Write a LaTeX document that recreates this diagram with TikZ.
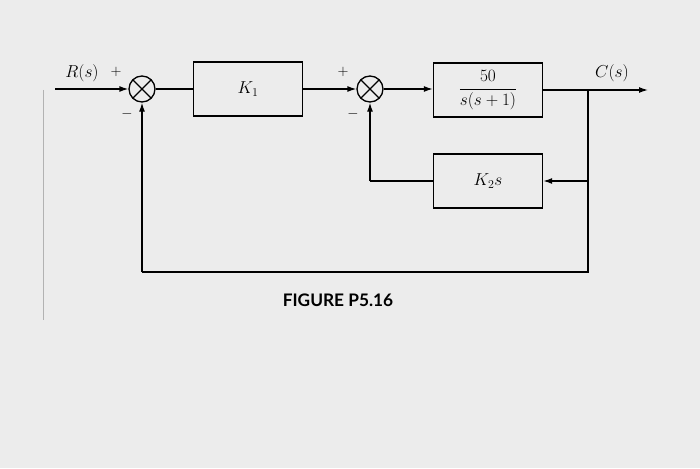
\documentclass[tikz,border=0pt]{standalone}
\usepackage{fontspec}
\setsansfont{Lato}
\usetikzlibrary{arrows.meta}
\begin{document}
\begin{tikzpicture}[x=1pt,y=-1pt,
  blk/.style={draw,line width=1.4pt,minimum width=109pt,minimum height=54pt,inner sep=0pt,font=\LARGE},
  sumj/.style={draw,line width=1.3pt,circle,minimum size=26pt,inner sep=0pt,
    path picture={\draw[line width=1.3pt] (path picture bounding box.north west)--(path picture bounding box.south east) (path picture bounding box.north east)--(path picture bounding box.south west);}},
  sig/.style={line width=1.3pt,-{Latex[length=9pt,width=6pt]}},
  ln/.style={line width=1.3pt},
  lbl/.style={font=\LARGE},
  sgn/.style={font=\Large}]
\fill[gray!15] (0,0) rectangle (700,468);
\useasboundingbox (0,0) rectangle (700,468);
\draw[gray!60,line width=0.8pt] (43,90)--(43,320);
\coordinate (in) at (55,89);
\node[sumj] (s1) at (142,89) {};
\node[blk] (k1) at (248,89) {$K_1$};
\node[sumj] (s2) at (370,89) {};
\node[blk] (g) at (488,90) {$\displaystyle\frac{50}{s(s+1)}$};
\node[blk] (h) at (488,181) {$K_2 s$};
\coordinate (br) at (588,90);
\coordinate (out) at (648,90);
\coordinate (bl) at (588,272);
\coordinate (bk) at (142,272);
\coordinate (hl) at (370,181);
\node[lbl] (R) at (82,73) {$R(s)$};
\node[sgn] (p1) at (116,72) {$+$};
\node[sgn] (m1) at (127,114) {$-$};
\node[sgn] (p2) at (343,72) {$+$};
\node[sgn] (m2) at (353,114) {$-$};
\node[lbl] (C) at (612,73) {$C(s)$};
\node[font=\sffamily\bfseries\LARGE] (fig) at (338,300) {FIGURE P5.16};
\draw[sig] (in)--(s1);
\draw[ln] (s1)--(k1);
\draw[sig] (k1)--(s2);
\draw[sig] (s2)--(g.west|-s2);
\draw[sig] (g.east|-br)--(out);
\draw[sig] (br)|-(h.east);
\draw[ln] (br)--(bl)--(bk);
\draw[sig] (bk)--(s1);
\draw[ln] (h.west)--(hl);
\draw[sig] (hl)--(s2);
\end{tikzpicture}
\end{document}
